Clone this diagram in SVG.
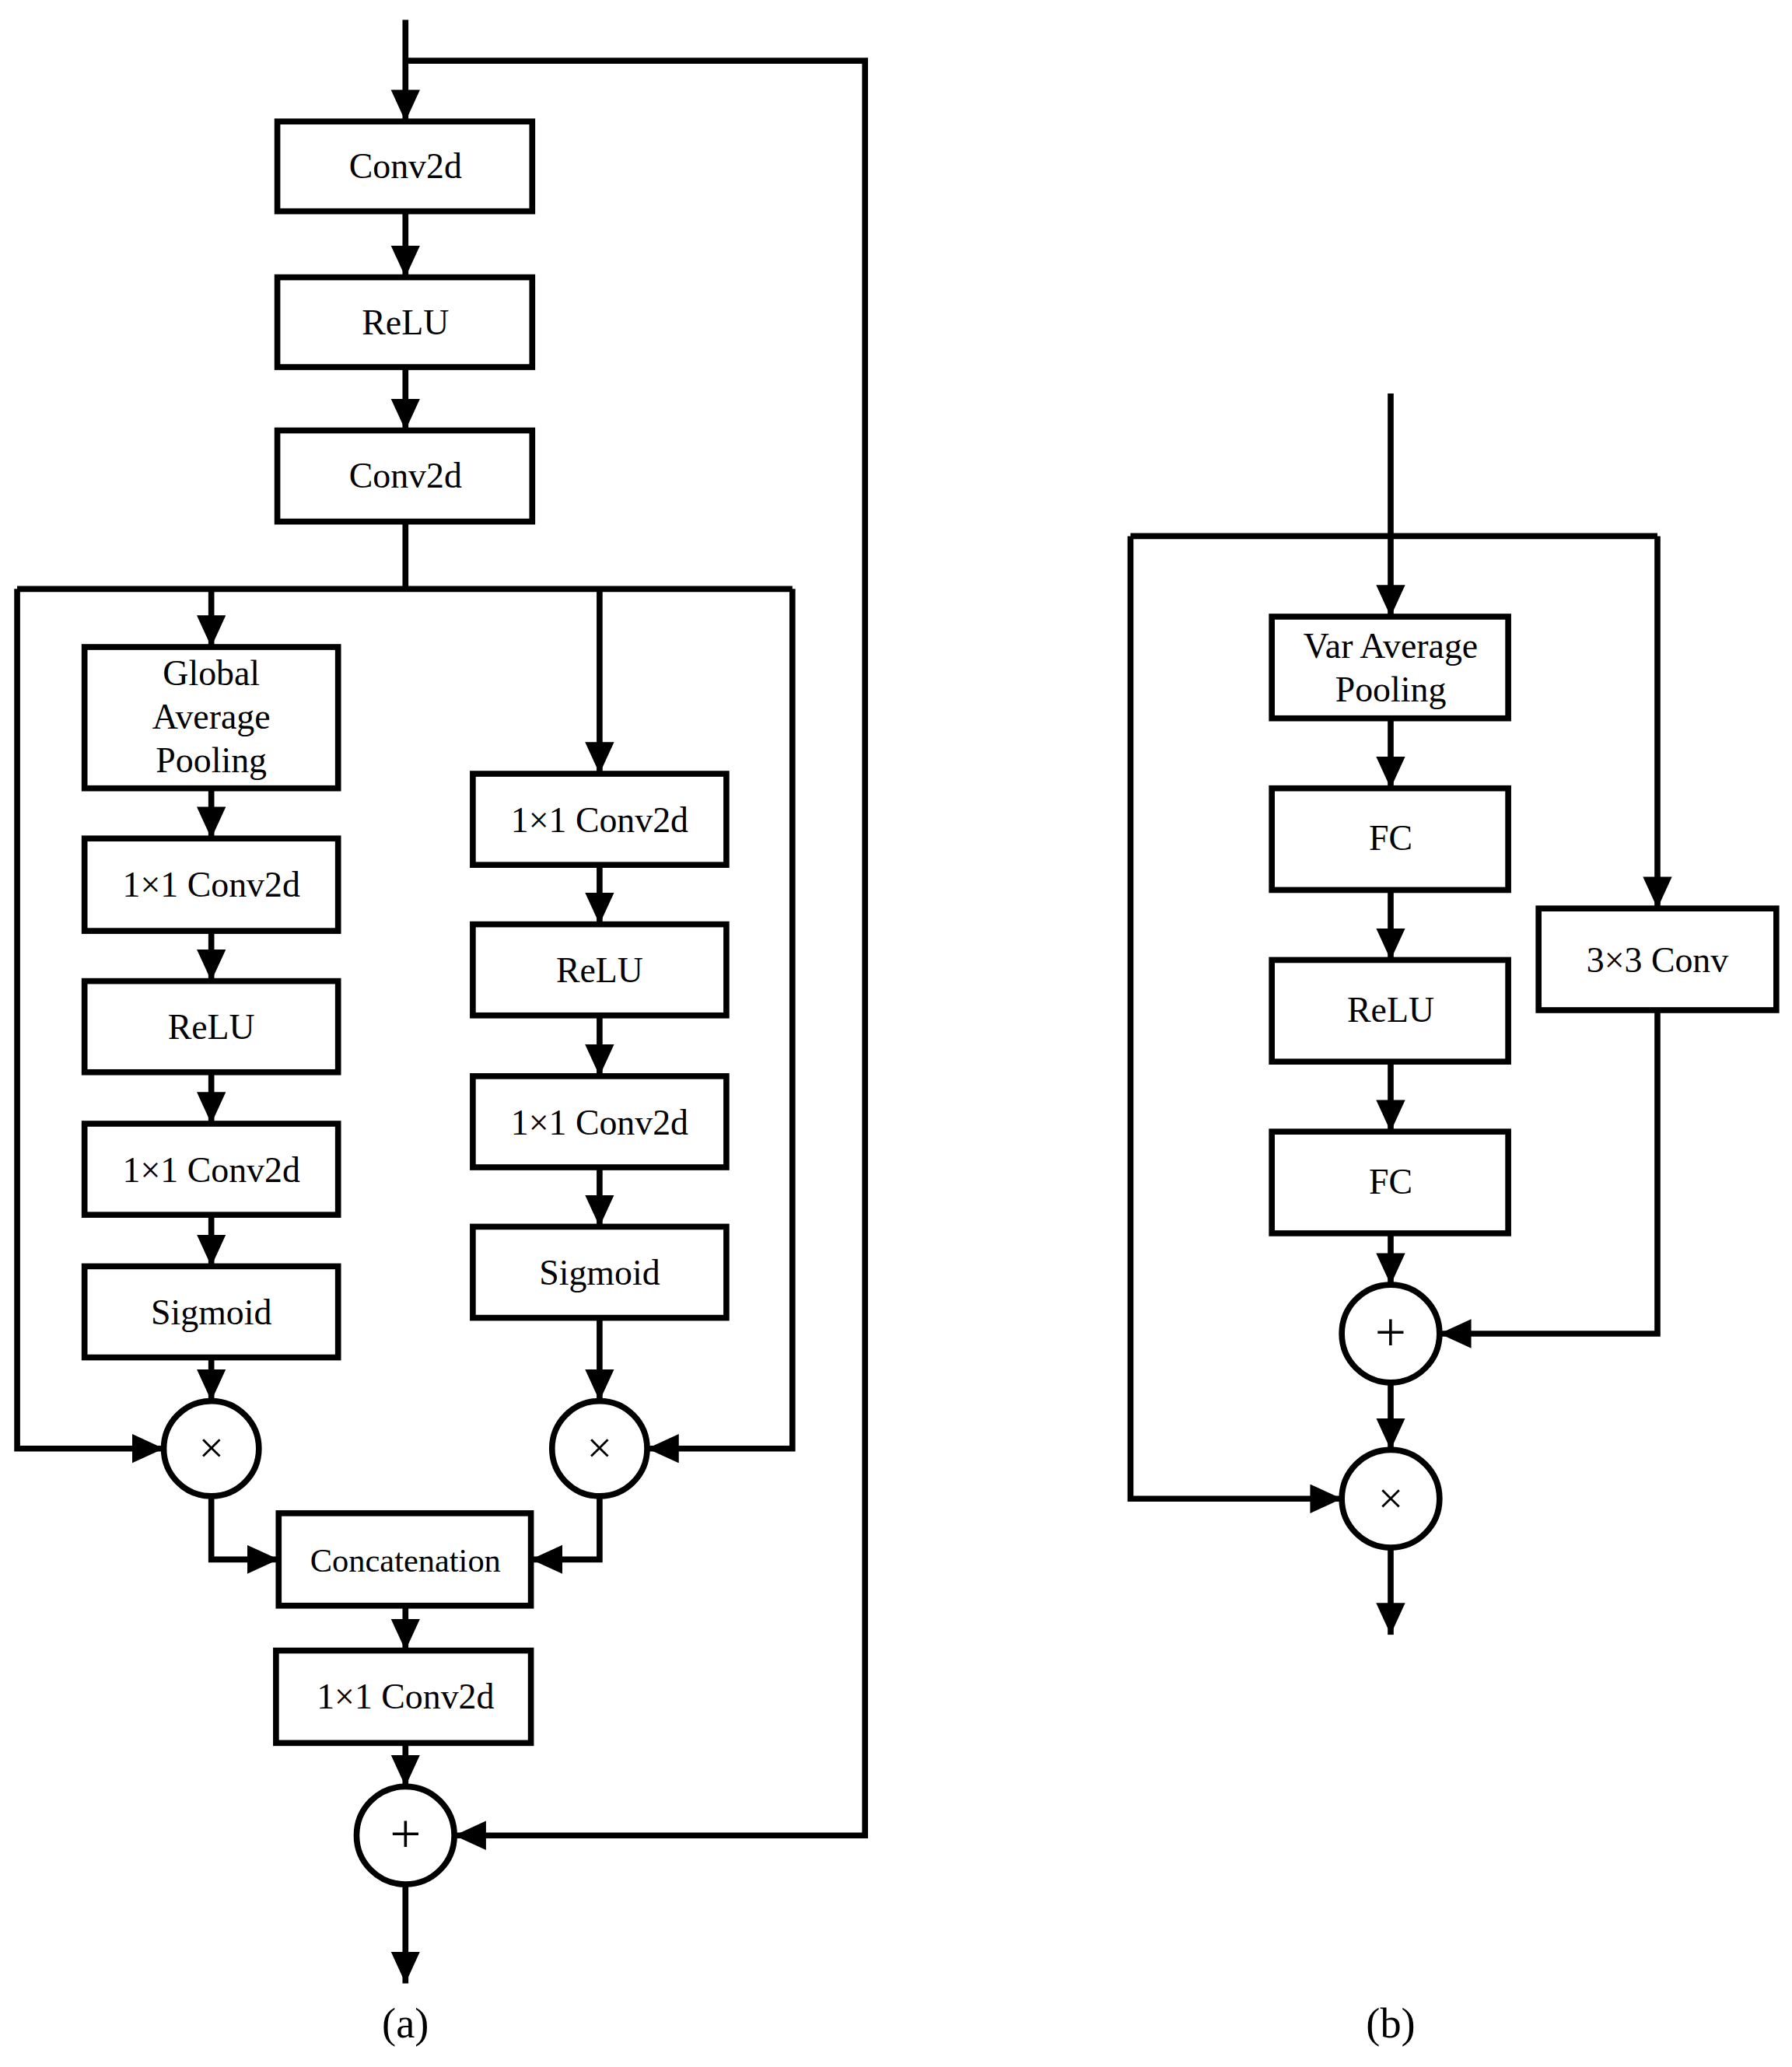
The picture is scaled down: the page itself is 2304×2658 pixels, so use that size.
<svg xmlns="http://www.w3.org/2000/svg" width="2304" height="2658" viewBox="0 0 2304 2658">
<defs>
<style>
.b{fill:#fff;stroke:#000;stroke-width:4.5}
.l{fill:none;stroke:#000;stroke-width:4.5;marker-end:url(#ah)}
.n{fill:none;stroke:#000;stroke-width:4.5}
.t{font-family:"Liberation Serif",serif;font-size:27px;text-anchor:middle;fill:#000}
.s{font-family:"Liberation Sans",sans-serif;font-size:44px;text-anchor:middle;fill:#000}
</style>
<marker id="ah" markerUnits="userSpaceOnUse" markerWidth="30" markerHeight="30" refX="24" refY="11" orient="auto">
<path d="M0,0 L24,11 L0,22 Z" fill="#000"/>
</marker>
</defs>
<rect width="2304" height="2658" fill="#fff"/>
<g transform="scale(1.698)">
<g id="connectors">
<path class="l" d="M307,15 V92"/>
<path class="l" d="M307,46 H655 V1390 H344"/>
<path class="l" d="M307,160 V210"/>
<path class="l" d="M307,278 V326"/>
<path class="n" d="M307,395 V446"/>
<path class="n" d="M13,446 H600"/>
<path class="l" d="M13,446 V1097 H124"/>
<path class="l" d="M600,446 V1097 H490"/>
<path class="l" d="M160,446 V490"/>
<path class="l" d="M454,446 V586"/>
<path class="l" d="M160,597 V635"/>
<path class="l" d="M160,705 V743"/>
<path class="l" d="M160,812 V851"/>
<path class="l" d="M160,920 V959"/>
<path class="l" d="M160,1028 V1061"/>
<path class="l" d="M454,655 V700"/>
<path class="l" d="M454,769 V815"/>
<path class="l" d="M454,884 V929"/>
<path class="l" d="M454,998 V1061"/>
<path class="l" d="M160,1133 V1181 H211"/>
<path class="l" d="M454,1133 V1181 H402"/>
<path class="l" d="M307,1216 V1250"/>
<path class="l" d="M307,1320 V1353"/>
<path class="l" d="M307,1427 V1502"/>
<path class="l" d="M1053,298 V467"/>
<path class="n" d="M856,406 H1255"/>
<path class="l" d="M856,406 V1135 H1016"/>
<path class="l" d="M1255,406 V688"/>
<path class="l" d="M1255,765 V1010 H1090"/>
<path class="l" d="M1053,544 V597"/>
<path class="l" d="M1053,674 V727"/>
<path class="l" d="M1053,804 V857"/>
<path class="l" d="M1053,934 V973"/>
<path class="l" d="M1053,1047 V1098"/>
<path class="l" d="M1053,1172 V1238"/>
</g>
<g id="a_conv1"><rect class="b" x="210" y="92" width="193" height="68"/><text class="t" x="307" y="135">Conv2d</text></g>
<g id="a_relu1"><rect class="b" x="210" y="210" width="193" height="68"/><text class="t" x="307" y="253">ReLU</text></g>
<g id="a_conv2"><rect class="b" x="210" y="326" width="193" height="69"/><text class="t" x="307" y="369">Conv2d</text></g>
<g id="a_gap"><rect class="b" x="64" y="490" width="192" height="107"/><text class="t" x="160" y="519">Global</text><text class="t" x="160" y="552">Average</text><text class="t" x="160" y="585">Pooling</text></g>
<g id="a_l1"><rect class="b" x="64" y="635" width="192" height="70"/><text class="t" x="160" y="679">1×1 Conv2d</text></g>
<g id="a_l2"><rect class="b" x="64" y="743" width="192" height="69"/><text class="t" x="160" y="787">ReLU</text></g>
<g id="a_l3"><rect class="b" x="64" y="851" width="192" height="69"/><text class="t" x="160" y="895">1×1 Conv2d</text></g>
<g id="a_l4"><rect class="b" x="64" y="959" width="192" height="69"/><text class="t" x="160" y="1003">Sigmoid</text></g>
<g id="a_r1"><rect class="b" x="358" y="586" width="192" height="69"/><text class="t" x="454" y="630">1×1 Conv2d</text></g>
<g id="a_r2"><rect class="b" x="358" y="700" width="192" height="69"/><text class="t" x="454" y="744">ReLU</text></g>
<g id="a_r3"><rect class="b" x="358" y="815" width="192" height="69"/><text class="t" x="454" y="859">1×1 Conv2d</text></g>
<g id="a_r4"><rect class="b" x="358" y="929" width="192" height="69"/><text class="t" x="454" y="973">Sigmoid</text></g>
<g id="a_mulL"><circle class="b" cx="160" cy="1097" r="36"/><text class="t" x="160" y="1108" style="font-size:34px">×</text></g>
<g id="a_mulR"><circle class="b" cx="454" cy="1097" r="36"/><text class="t" x="454" y="1108" style="font-size:34px">×</text></g>
<g id="a_concat"><rect class="b" x="211" y="1146" width="191" height="70"/><text class="t" x="307" y="1190" style="font-size:25px">Concatenation</text></g>
<g id="a_conv3"><rect class="b" x="209" y="1250" width="193" height="70"/><text class="t" x="307" y="1294">1×1 Conv2d</text></g>
<g id="a_add"><circle class="b" cx="307" cy="1390" r="37"/><text class="t" x="307" y="1403" style="font-size:42px">+</text></g>
<g id="b_vap"><rect class="b" x="963" y="467" width="179" height="77"/><text class="t" x="1053" y="498">Var Average</text><text class="t" x="1053" y="531">Pooling</text></g>
<g id="b_fc1"><rect class="b" x="963" y="597" width="179" height="77"/><text class="t" x="1053" y="644">FC</text></g>
<g id="b_relu"><rect class="b" x="963" y="727" width="179" height="77"/><text class="t" x="1053" y="774">ReLU</text></g>
<g id="b_fc2"><rect class="b" x="963" y="857" width="179" height="77"/><text class="t" x="1053" y="904">FC</text></g>
<g id="b_conv"><rect class="b" x="1165" y="688" width="180" height="77"/><text class="t" x="1255" y="736">3×3 Conv</text></g>
<g id="b_add"><circle class="b" cx="1053" cy="1010" r="37"/><text class="t" x="1053" y="1023" style="font-size:42px">+</text></g>
<g id="b_mul"><circle class="b" cx="1053" cy="1135" r="37"/><text class="t" x="1053" y="1146" style="font-size:34px">×</text></g>
<text class="t" x="307" y="1543" style="font-size:32px">(a)</text>
<text class="t" x="1053" y="1543" style="font-size:32px">(b)</text>
</g>
</svg>
